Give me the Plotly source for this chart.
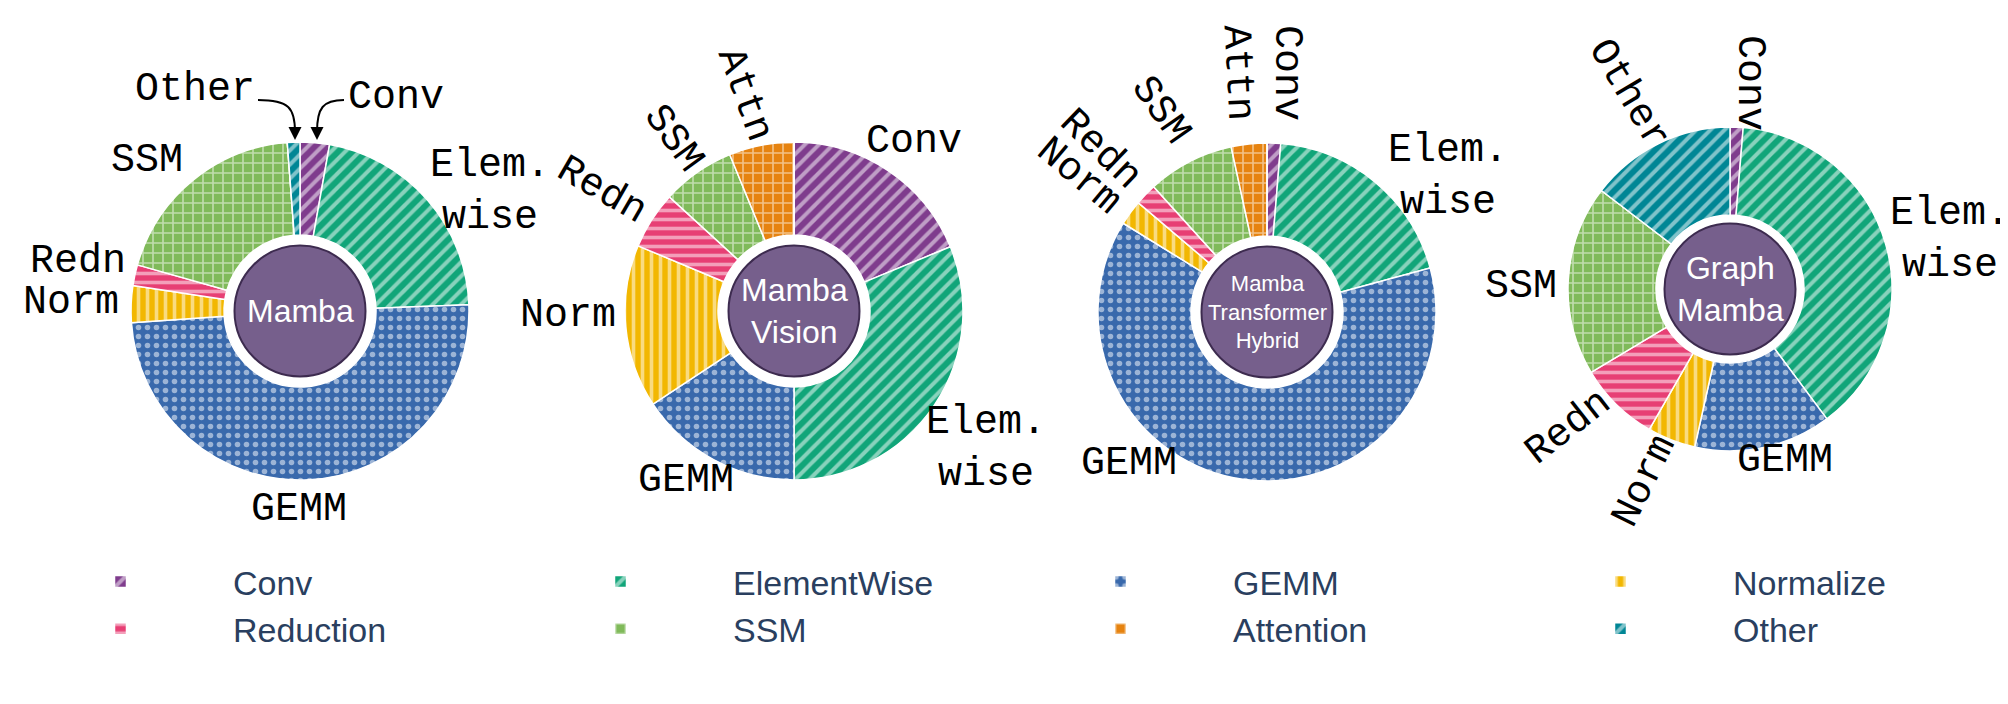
import plotly.graph_objects as go

W, H = 2008, 704

# ---------------- data ----------------
categories = ["Conv", "ElementWise", "GEMM", "Normalize", "Reduction", "SSM", "Attention", "Other"]
models = ["Mamba", "Mamba<br>Vision", "Mamba<br>Transformer<br>Hybrid", "Graph<br>Mamba"]

mamba = [2.8, 21.6, 49.5, 3.5, 2.0, 19.4, 0.0, 1.2]
mamba_vision = [18.8, 31.2, 15.7, 15.6, 5.5, 7.0, 6.2, 0.0]
hybrid = [1.3, 19.5, 63.0, 2.4, 2.1, 8.3, 3.4, 0.0]
graph_mamba = [1.3, 38.5, 13.7, 4.8, 8.1, 19.0, 0.0, 14.6]
series = [mamba, mamba_vision, hybrid, graph_mamba]

# ---------------- styles ----------------
colors = ["#7F3C8D", "#11A579", "#3969AC", "#F2B701", "#E73F74", "#80BA5A", "#E68310", "#008695"]
shapes_pat = ["/", "/", ".", "|", "-", "+", "+", "/"]
pat_size = [10, 10, 9, 9, 9, 10, 10, 10]
pat_solid = [0.4, 0.4, 0.3, 0.4, 0.4, 0.3, 0.3, 0.4]

# pie geometry in pixels: (cx, cy, r, hole_r)
geom = [(292, 303, 169, 76), (786, 303, 169, 76), (1259, 304, 169, 76), (1722, 281, 162, 74)]
center_r = 65.5
center_font = [32, 32, 22, 32]

# outside labels: (text, x_px, y_px, angle)
labels = [
    [("Other", 187, 82, 0), ("Conv", 388, 90, 0), ("SSM", 139, 152, 0), ("Redn", 70, 253, 0),
     ("Norm", 63, 294, 0), ("Elem.<br>wise", 482, 183, 0), ("GEMM", 291, 502, 0)],
    [("Attn", 736, 87, 70), ("SSM", 665, 131, 54), ("Redn", 594, 182, 30), ("Norm", 560, 307, 0),
     ("Conv", 906, 134, 0), ("Elem.<br>wise", 978, 440, 0), ("GEMM", 678, 472, 0)],
    [("Redn", 1092, 142, 44), ("Norm", 1071, 168, 40), ("SSM", 1153, 102, 55), ("Attn", 1229, 65, 87),
     ("Conv", 1278, 65, 90), ("Elem.<br>wise", 1440, 168, 0), ("GEMM", 1121, 455, 0)],
    [("Other", 1621, 86, 59), ("Conv", 1742, 75, 90), ("Elem.<br>wise", 1942, 231, 0), ("SSM", 1513, 279, 0),
     ("Redn", 1560, 419, -38), ("Norm", 1636, 473, -64), ("GEMM", 1777, 452, 0)],
]


def px(x):
    return x / W


def py(y):
    return 1 - y / H


fig = go.Figure()
for i, vals in enumerate(series):
    cx, cy, r, hr = geom[i]
    fig.add_trace(go.Pie(
        labels=categories, values=vals, sort=False, direction="clockwise", rotation=0,
        hole=hr / r, textinfo="none", hoverinfo="label+percent",
        domain=dict(x=[px(cx - r), px(cx + r)], y=[py(cy + r), py(cy - r)]),
        marker=dict(colors=colors, line=dict(color="white", width=1.5),
                    pattern=dict(shape=shapes_pat, size=pat_size, solidity=pat_solid,
                                 bgcolor=colors, fgcolor="white", fgopacity=0.5)),
        showlegend=True, name=models[i].replace("<br>", " "),
    ))

shapes = []
annotations = []
for i in range(4):
    cx, cy, r, hr = geom[i]
    shapes.append(dict(type="circle", xref="paper", yref="paper", layer="above",
                       x0=px(cx - center_r), x1=px(cx + center_r),
                       y0=py(cy + center_r), y1=py(cy - center_r),
                       fillcolor="#765f8c", line=dict(color="#3d2b4f", width=2)))
    annotations.append(dict(text=models[i], x=px(cx), y=py(cy), xref="paper", yref="paper",
                            showarrow=False, xanchor="center", yanchor="middle",
                            font=dict(family="Liberation Sans", size=center_font[i], color="white")))
    for (t, lx, ly, ang) in labels[i]:
        annotations.append(dict(text=t, x=px(lx), y=py(ly), xref="paper", yref="paper",
                                showarrow=False, xanchor="center", yanchor="middle", textangle=ang,
                                font=dict(family="Courier New, Liberation Mono, monospace",
                                          size=40, color="black")))

# curved leader arrows for the small slices of the first chart
arrow_paths = [
    [(250, 92), (281, 92), (287, 100), (287, 124)],
    [(336, 92), (315, 92), (309, 100), (309, 124)],
]
for pts in arrow_paths:
    (x0, y0), (x1, y1), (x2, y2), (x3, y3) = pts
    shapes.append(dict(type="path", xref="paper", yref="paper",
                       path=f"M{px(x0)},{py(y0)} C{px(x1)},{py(y1)} {px(x2)},{py(y2)} {px(x3)},{py(y3)}",
                       line=dict(color="black", width=2)))
    annotations.append(dict(text="", x=px(x3), y=py(y3 + 8), xref="paper", yref="paper",
                            showarrow=True, ax=0, ay=-14, arrowhead=2, arrowsize=1.3,
                            arrowwidth=2, arrowcolor="black", standoff=0))

fig.update_layout(
    width=W, height=H, margin=dict(l=0, r=0, t=0, b=0, autoexpand=False),
    paper_bgcolor="white", plot_bgcolor="white",
    shapes=shapes, annotations=annotations,
    legend=dict(orientation="h", x=0, y=0.226, xanchor="left", yanchor="top",
                font=dict(family="Liberation Sans", size=34, color="#2a3f5f"),
                itemwidth=215, entrywidth=270, entrywidthmode="pixels"),
)

fig.write_html("out.html")
